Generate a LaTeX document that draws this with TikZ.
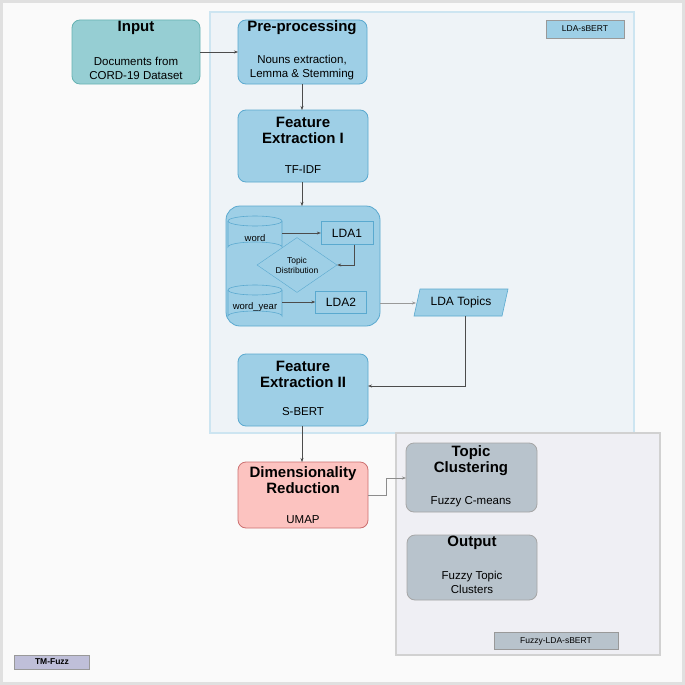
\documentclass[tikz,border=0pt]{standalone}
\usepackage{fontspec}
\setmainfont{Liberation Sans}
\usetikzlibrary{shapes.geometric,arrows.meta}
\definecolor{bl}{HTML}{9ECFE6}
\definecolor{blb}{HTML}{5AA9CF}
\definecolor{tl}{HTML}{96CED3}
\definecolor{gr}{HTML}{B8C3CC}
\definecolor{ldabg}{HTML}{EEF3F7}
\definecolor{fzbg}{HTML}{EFEFF4}
\begin{document}
\begin{tikzpicture}[x=1pt,y=-1pt,
 box/.style={draw=blb,fill=bl,rounded corners=8pt,line width=0.8pt},
 ttl/.style={font=\bfseries\fontsize{15}{16}\selectfont,align=center},
 txt/.style={font=\fontsize{11.5}{14}\selectfont,align=center},
 sm/.style={font=\fontsize{9.5}{11}\selectfont,align=center},
 arr/.style={-{Stealth[length=4pt]},draw=black!70,line width=0.5pt},
 tag/.style={draw=black!40,line width=0.6pt,font=\fontsize{8.5}{10}\selectfont}]
\useasboundingbox (0,0) rectangle (685,685);
\fill[draw=black!12,line width=3pt,fill=black!2] (1.5,1.5) rectangle (683.5,683.5);
\draw[draw=blb!30,fill=ldabg,line width=1.5pt] (210,12) rectangle (634,433);
\draw[draw=black!18,fill=fzbg,line width=1.5pt] (396,433) rectangle (660,655);
% Input
\draw[draw=teal!60,fill=tl,rounded corners=8pt,line width=0.8pt] (72,20) rectangle (200,84);
\node[ttl] (intt) at (136,28) {Input};
\node[txt] (in) at (136,68) {Documents from\\CORD-19 Dataset};
\coordinate (inE) at (200,52);
% Pre
\draw[box] (238,20) rectangle (367,84);
\node[ttl] (pret) at (302,28) {Pre-processing};
\node[txt] (pre) at (302,68) {Nouns extraction,\\Lemma \& Stemming};
\coordinate (preW) at (238,52); \coordinate (preS) at (302,84);
% FE1
\draw[box] (238,110) rectangle (368,182);
\node[ttl] (fe1t) at (303,130) {Feature\\Extraction I};
\node[txt] (fe1) at (303,170) {TF-IDF};
\coordinate (fe1N) at (302,110); \coordinate (fe1S) at (302,182);
% big box
\draw[box,rounded corners=14pt] (226,206) rectangle (380,326);
\coordinate (bbN) at (302,206); \coordinate (bbE) at (380,303);
% cylinders
\foreach \yy in {216,285}{
 \draw[draw=blb,fill=bl,line width=0.6pt] (228,\yy+5) -- (228,\yy+31) arc[start angle=180,end angle=360,x radius=27,y radius=5] -- (282,\yy+5) arc[start angle=0,end angle=-180,x radius=27,y radius=5] -- cycle;
 \draw[draw=blb,line width=0.6pt] (282,\yy+5) arc[start angle=0,end angle=180,x radius=27,y radius=5];
}
\node[sm] (w) at (255,238) {word};
\node[sm] (wy) at (255,307) {word\_year};
\coordinate (wE) at (282,233); \coordinate (wyE) at (282,302);
\node[draw=blb,fill=bl,minimum width=52pt,minimum height=23pt,font=\fontsize{12}{14}\selectfont] (l1) at (347,233) {LDA1};
\node[draw=blb,fill=bl,minimum width=51pt,minimum height=22pt,font=\fontsize{12}{14}\selectfont] (l2) at (341,302) {LDA2};
\node[diamond,draw=blb,fill=bl,minimum width=80pt,minimum height=55pt,aspect=1.5,inner sep=0pt,align=center,font=\fontsize{8.5}{10}\selectfont] (td) at (297,265) {Topic\\Distribution};
\draw[arr] (wE) -- (l1);
\draw[arr] (wyE) -- (l2);
\draw[arr] (l1.south-|354,0) |- (td.east);
% LDA topics
\draw[draw=blb,fill=bl,line width=0.6pt] (420,289) -- (508,289) -- (502,316) -- (414,316) -- cycle;
\node[font=\fontsize{12}{14}\selectfont] (lt) at (461,302) {LDA Topics};
\coordinate (ltW) at (416,303); \coordinate (ltS) at (465,316);
\draw[arr,draw=black!40] (bbE) -- (ltW);
% FE2
\draw[box] (238,354) rectangle (368,426);
\node[ttl] (fe2t) at (303,374) {Feature\\Extraction II};
\node[txt] (fe2) at (303,412) {S-BERT};
\coordinate (fe2E) at (368,386); \coordinate (fe2S) at (302,426);
\draw[arr] (ltS) |- (fe2E);
% Dim red
\draw[draw=red!45!white!80!black,fill=red!22!white!95!brown,rounded corners=8pt,line width=0.8pt] (238,462) rectangle (368,528);
\node[ttl] (drt) at (303,480) {Dimensionality\\Reduction};
\node[txt] (dr) at (303,520) {UMAP};
\coordinate (drN) at (302,462); \coordinate (drE) at (368,495);
% topic clustering
\draw[draw=black!35,fill=gr,rounded corners=8pt,line width=0.8pt] (406,443) rectangle (537,512);
\node[ttl] (tct) at (471,461) {Topic\\Clustering};
\node[txt] (tc) at (471,502) {Fuzzy C-means};
\coordinate (tcW) at (406,478);
\draw[draw=black!35,fill=gr,rounded corners=8pt,line width=0.8pt] (407,535) rectangle (537,600);
\node[ttl] (ot) at (472,543) {Output};
\node[txt] (o) at (472,582) {Fuzzy Topic\\Clusters};
\draw[arr] (inE) -- (preW);
\draw[arr] (preS) -- (fe1N);
\draw[arr] (fe1S) -- (bbN);
\draw[arr] (fe2S) -- (drN);
\draw[arr,draw=black!45] (drE) -- (386,495) |- (tcW);
% tags
\node[tag,fill=bl,minimum width=78pt,minimum height=18pt,inner sep=0pt] (t1) at (585,29) {LDA-sBERT};
\node[tag,fill=gr,minimum width=124pt,minimum height=17pt,inner sep=0pt] (t2) at (556,641) {Fuzzy-LDA-sBERT};
\node[tag,fill=blue!25!gray!40!white,minimum width=75pt,minimum height=14pt,inner sep=0pt,font=\bfseries\fontsize{8.5}{10}\selectfont] (t3) at (52,662) {TM-Fuzz};
\end{tikzpicture}
\end{document}
